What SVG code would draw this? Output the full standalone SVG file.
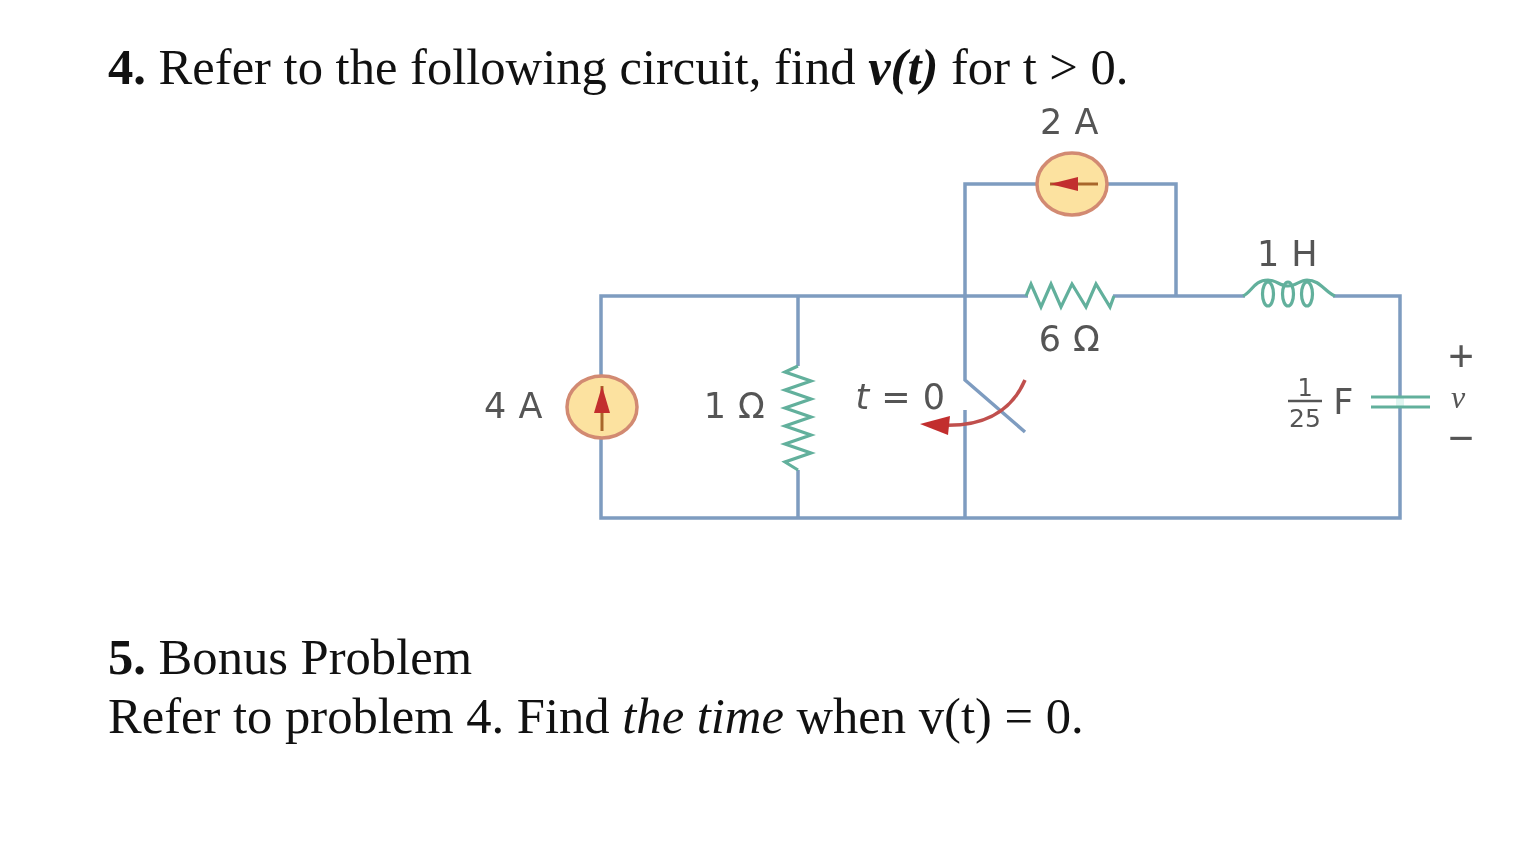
<svg xmlns="http://www.w3.org/2000/svg" width="1522" height="860" viewBox="0 0 1522 860">
<defs><filter id="b" x="-5%" y="-5%" width="110%" height="110%"><feGaussianBlur stdDeviation="0.7"/></filter></defs>
<style>
.t{font-family:"Liberation Serif",serif;font-size:50.6px;fill:#111}
.l{font-family:"DejaVu Sans",sans-serif;font-size:35px;fill:#555;letter-spacing:1.5px;word-spacing:-2px}
.w{fill:none;stroke:#7e9cc0;stroke-width:3.5}
.g{fill:none;stroke:#62b09c;stroke-width:3.2}
.s{fill:#fce2a0;stroke:#d28a72;stroke-width:3.5}
.r{fill:none;stroke:#c0504d;stroke-width:3.5}
.a{fill:#c22f2f}
.c{filter:url(#b)}
</style>
<rect width="1522" height="860" fill="#fff"/>
<text class="t" x="108" y="84"><tspan font-weight="bold">4.</tspan> Refer to the following circuit, find <tspan font-weight="bold" font-style="italic">v(t)</tspan> for t &gt; 0.</text>
<text class="t" x="108" y="674"><tspan font-weight="bold">5.</tspan> Bonus Problem</text>
<text class="t" x="108" y="733">Refer to problem 4. Find <tspan font-style="italic">the time</tspan> when v(t) = 0.</text>
<g id="connectors" class="c">
<path class="w" d="M1028 296H601V518H1400V296H1333"/>
<path class="w" d="M1113 296H1245"/>
<path class="w" d="M798 296V366M798 470V518"/>
<path class="w" d="M965 410V518"/>
<path class="w" d="M1025 432L965 380V184H1176V296"/>
</g>
<g id="source-2a" class="c"><ellipse class="s" cx="1072" cy="184" rx="35" ry="31"/><path d="M1050 184H1098" stroke="#a8662c" stroke-width="3"/><path class="a" d="M1050 184L1078 177V191Z"/><text class="l" x="1070" y="134" text-anchor="middle">2 A</text></g>
<g id="source-4a" class="c"><ellipse class="s" cx="602" cy="407" rx="35" ry="31"/><path d="M602 431V386" stroke="#a8662c" stroke-width="3"/><path class="a" d="M602 386L594 413H610Z"/><text class="l" x="514" y="418" text-anchor="middle">4 A</text></g>
<g id="resistor-1" class="c"><path class="g" d="M798 366L785 372L811 381L785 390L811 399L785 408L811 417L785 426L811 435L785 444L811 453L785 462L798 470"/><text class="l" x="735" y="418" text-anchor="middle">1 Ω</text></g>
<g id="resistor-6" class="c"><path class="g" d="M1026 296L1031 284L1041 307L1051 284L1061 307L1072 284L1086 307L1096 284L1110 307L1114 296"/><text class="l" x="1070" y="351" text-anchor="middle">6 Ω</text></g>
<g id="inductor" class="c"><path class="g" d="M1243 296C1252 292 1254 280 1268 280C1276 280 1280 286 1288 286C1296 286 1300 280 1307 280C1320 280 1325 292 1335 296"/><ellipse class="g" cx="1268" cy="294" rx="5.5" ry="12"/><ellipse class="g" cx="1288" cy="294" rx="5.5" ry="12"/><ellipse class="g" cx="1307" cy="294" rx="5.5" ry="12"/><text class="l" x="1288" y="266" text-anchor="middle">1 H</text></g>
<g id="capacitor" class="c"><path d="M1400 397V407" stroke="#dff5f0" stroke-width="8"/><path class="g" d="M1371 397H1430M1371 407H1430"/><text class="l" style="font-size:24px" x="1306" y="396" text-anchor="middle">1</text><path d="M1288 401H1322" stroke="#555" stroke-width="2.5"/><text class="l" style="font-size:25px;letter-spacing:0" x="1305" y="427" text-anchor="middle">25</text><text class="l" x="1344" y="414" text-anchor="middle">F</text></g>
<g id="switch" class="c"><path class="r" d="M1025 380C1012 410 985 428 938 425"/><path class="a" d="M920 424L950 416L948 435Z"/><text class="l" x="901" y="409" text-anchor="middle"><tspan font-style="italic">t</tspan> = 0</text></g>
<g id="voltage" class="c"><text style="font-family:'Liberation Sans',sans-serif;font-size:44px;fill:#555" x="1461" y="371" text-anchor="middle">+</text><text x="1458" y="408" text-anchor="middle" font-family="Liberation Serif,serif" font-style="italic" font-size="32" fill="#555">v</text><text style="font-family:'Liberation Sans',sans-serif;font-size:44px;fill:#555" x="1461" y="453" text-anchor="middle">−</text></g>
</svg>
